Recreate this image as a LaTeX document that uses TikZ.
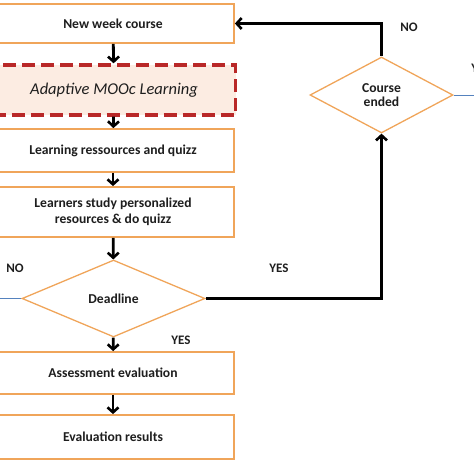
\documentclass[tikz,border=0pt]{standalone}
\usepackage{fontspec}
\setmainfont{Carlito}
\usepackage{tikz}
\usetikzlibrary{arrows.meta, positioning, shapes.geometric}
\definecolor{boxorange}{RGB}{240,165,90}
\definecolor{dashred}{RGB}{185,40,40}
\definecolor{peach}{RGB}{252,236,226}
\definecolor{inkgray}{RGB}{30,30,30}
\definecolor{lineblue}{RGB}{85,130,190}

\begin{document}
\begin{tikzpicture}[x=1pt, y=-1pt,
	every node/.style={font=\fontsize{13.6}{16}\selectfont\bfseries, text=inkgray},
	stepbox/.style={draw=boxorange, line width=1.8pt, fill=white, minimum width=242pt, align=center, inner sep=0pt},
	decision/.style={diamond, draw=boxorange, line width=1.3pt, fill=white, align=center, inner sep=0pt},
	flow/.style={line width=2.8pt, -{Straight Barb[length=5pt, width=11pt, line width=2.6pt]}},
	answer/.style={font=\fontsize{13}{15}\selectfont\bfseries}]

\useasboundingbox (0,0) rectangle (474,474);

% main column
\node[stepbox, minimum height=39pt] (week) at (113, 23.5) {New week course};
\node[stepbox, draw=dashred, fill=peach, dash pattern=on 13pt off 6pt, line width=3.4pt, minimum width=243pt, minimum height=50pt,
	font=\fontsize{16.5}{18}\selectfont\itshape] (adaptive) at (114, 90) {Adaptive MOOc Learning};
\node[stepbox, minimum height=43pt] (ressources) at (113, 150.5) {Learning ressources and quizz};
\node[stepbox, minimum height=50pt] (study) at (113, 212) {Learners study personalized\\ resources \& do quizz};
\node[decision, minimum width=183pt, minimum height=77pt] (deadline) at (113.5, 298.5) {Deadline};
\node[stepbox, minimum height=42pt] (assess) at (113, 373) {Assessment evaluation};
\node[stepbox, minimum height=44pt] (results) at (113, 437) {Evaluation results};

% right column
\node[decision, minimum width=143pt, minimum height=76pt, font=\fontsize{13.6}{14.5}\selectfont\bfseries] (ended) at (381.5, 95) {Course\\ ended};

\coordinate (left end) at (-5, 298.5);
\coordinate (right end) at (480, 95);

\draw[flow] (week) -- (adaptive);
\draw[flow] (adaptive) -- (ressources);
\draw[flow] (ressources) -- (study);
\draw[flow] (study) -- (deadline);
\draw[flow] (deadline) -- (assess);
\draw[flow] (assess) -- (results);

\draw[flow] (deadline.east) -| (ended.south);
\draw[flow] (ended.north) |- (week.east);

\draw[lineblue, line width=1.6pt] (deadline.west) -- (left end);
\draw[lineblue, line width=0.8pt] (ended.east) -- (right end);

\node[answer] at (409, 27) {NO};
\node[answer] at (15, 268) {NO};
\node[answer] at (279, 268) {YES};
\node[answer] at (181, 340) {YES};
\node[answer] at (481, 68) {YES};

\end{tikzpicture}
\end{document}
